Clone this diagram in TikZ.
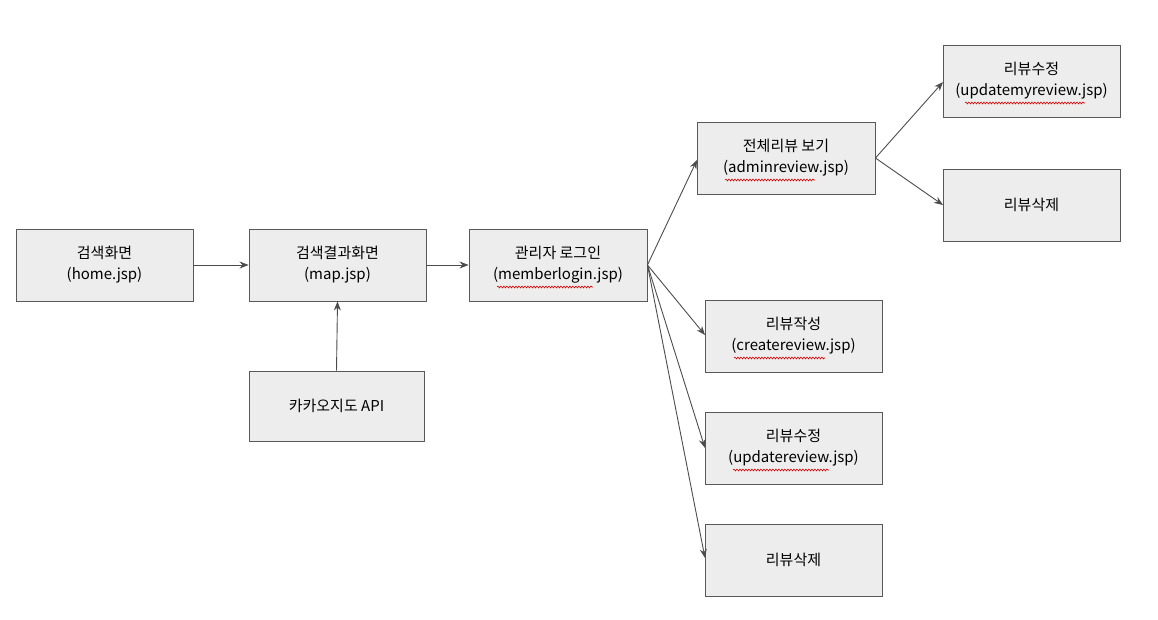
\documentclass[tikz,border=0pt]{standalone}
\usepackage{fontspec}
\setmainfont{Noto Sans CJK KR}
\usetikzlibrary{arrows.meta,decorations.pathmorphing}
\begin{document}
\begin{tikzpicture}[x=1pt,y=-1pt,
  box/.style={draw=black!65,fill=black!7,line width=0.9pt,minimum width=177pt,minimum height=72pt,align=center,font=\fontsize{15}{21}\selectfont,inner sep=0pt},
  arr/.style={draw=black!70,line width=0.9pt,-{Stealth[length=9pt,width=7pt]}},
  sq/.style={draw=red!85!black,line width=0.6pt,decorate,decoration={snake,amplitude=0.9pt,segment length=3pt}}]
\useasboundingbox (0,0) rectangle (1158,619);
\node[box] (A) at (104.5,265) {검색화면\\(home.jsp)};
\node[box] (B) at (337.5,265) {검색결과화면\\(map.jsp)};
\node[box,minimum width=175pt,minimum height=70pt] (C) at (336.5,406) {카카오지도 API};
\node[box,minimum width=178pt] (D) at (558,265) {관리자 로그인\\(memberlogin.jsp)};
\node[box,minimum width=178pt] (E) at (786,158) {전체리뷰 보기\\(adminreview.jsp)};
\node[box] (F) at (1031.5,81) {리뷰수정\\(updatemyreview.jsp)};
\node[box] (G) at (1031.5,205) {리뷰삭제};
\node[box] (H) at (793.5,336) {리뷰작성\\(createreview.jsp)};
\node[box] (I) at (793.5,448) {리뷰수정\\(updatereview.jsp)};
\node[box] (J) at (793.5,560) {리뷰삭제};
\draw[arr] (A.east) -- (B.west);
\draw[arr] (C.north) -- (B.south);
\draw[arr] (B.east) -- (D.west);
\coordinate (d) at (D.east);
\coordinate (e) at (E.east);
\draw[arr] (d) -- (697,160);
\draw[arr] (e) -- (943,82);
\draw[arr] (e) -- (943,205);
\draw[arr] (d) -- (705,335);
\draw[arr] (d) -- (705,448);
\draw[arr] (d) -- (705,558);
\draw[sq] (497,287) -- (593,287);
\draw[sq] (725,180) -- (815,180);
\draw[sq] (965,103) -- (1085,103);
\draw[sq] (734,358) -- (825,358);
\draw[sq] (733,470) -- (829,470);
\end{tikzpicture}
\end{document}
